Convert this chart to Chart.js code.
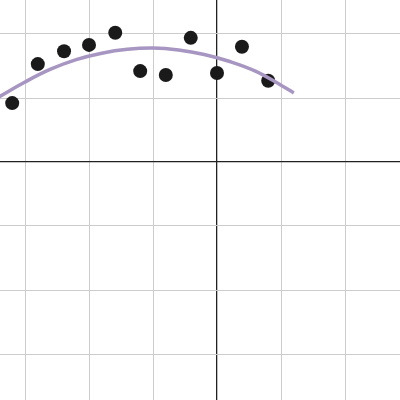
<!DOCTYPE html>
<html><head><script src="https://cdn.jsdelivr.net/npm/chart.js@4"></script>
<style>html,body{margin:0;padding:0;background:#fff}#w{width:400px;height:400px}</style></head>
<body><div id="w"><canvas id="c"></canvas></div>
<script>
const pointX=[-3.2,-2.8,-2.39,-2.0,-1.59,-1.2,-0.8,-0.41,0,0.39,0.8];
const pointY=[0.92,1.53,1.73,1.83,2.02,1.42,1.36,1.94,1.39,1.80,1.27];
const curveX=[-3.4,-3.0,-2.6,-2.2,-1.8,-1.4,-1.0,-0.6,-0.2,0.2,0.6,1.0,1.2];
const curveY=[1.02,1.25,1.45,1.6,1.70,1.76,1.78,1.75,1.68,1.57,1.42,1.20,1.08];
const xTicks=[-3,-2,-1,0,1,2];
const yTicks=[-3,-2,-1,0,1,2];
const grid={color:c=>c.tick.value===0?'#222':'#ccc',lineWidth:c=>c.tick.value===0?1.3:1,drawTicks:false};
new Chart(document.getElementById('c'),{
 type:'scatter',
 data:{datasets:[
  {type:'line',data:curveX.map((x,i)=>({x,y:curveY[i]})),borderColor:'#a795c2',borderWidth:3.5,pointRadius:0,tension:0.4,fill:false},
  {data:pointX.map((x,i)=>({x,y:pointY[i]})),backgroundColor:'#1a1a1a',pointRadius:7,borderWidth:0}
 ]},
 options:{responsive:true,maintainAspectRatio:false,animation:false,
  layout:{padding:0,autoPadding:false},
  plugins:{legend:{display:false},tooltip:{enabled:false}},
  scales:{
   x:{type:'linear',min:-217/64,max:183/64,afterBuildTicks:s=>{s.ticks=xTicks.map(v=>({value:v}));},ticks:{display:false},grid,border:{display:false}},
   y:{type:'linear',min:-238/64,max:162/64,afterBuildTicks:s=>{s.ticks=yTicks.map(v=>({value:v}));},ticks:{display:false},grid,border:{display:false}}
  }}
});
</script></body></html>
